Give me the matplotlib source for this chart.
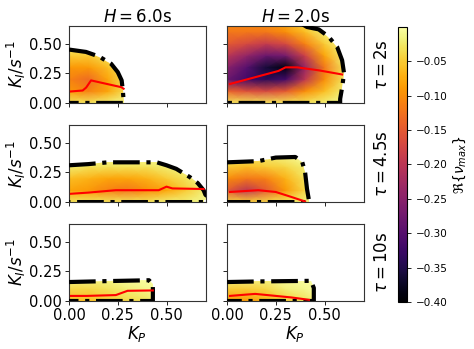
import matplotlib
matplotlib.use("Agg")
import matplotlib.pyplot as plt
import numpy as np
from matplotlib.patches import Polygon

kp = [0.0, 0.1, 0.2, 0.3, 0.4, 0.5, 0.6, 0.7]
ki = [0.0, 0.1, 0.2, 0.3, 0.4, 0.5, 0.6, 0.7]

H_labels = ["6.0", "2.0"]
tau_labels = ["2", "4.5", "10"]

# rows = Ki, cols = Kp
z_t2_h6 = [
    [-0.03, -0.03, -0.02, -0.01, 0.00, 0.00, 0.00, 0.00],
    [-0.09, -0.11, -0.08, -0.03, 0.00, 0.00, 0.00, 0.00],
    [-0.11, -0.13, -0.08, -0.03, 0.00, 0.00, 0.00, 0.00],
    [-0.09, -0.09, -0.06, -0.02, 0.00, 0.00, 0.00, 0.00],
    [-0.05, -0.05, -0.03, -0.01, 0.00, 0.00, 0.00, 0.00],
    [-0.02, -0.02, -0.01, 0.00, 0.00, 0.00, 0.00, 0.00],
    [0.00, 0.00, 0.00, 0.00, 0.00, 0.00, 0.00, 0.00],
    [0.00, 0.00, 0.00, 0.00, 0.00, 0.00, 0.00, 0.00],
]
z_t2_h2 = [
    [-0.03, -0.03, -0.03, -0.03, -0.03, -0.02, -0.01, 0.00],
    [-0.14, -0.16, -0.17, -0.15, -0.10, -0.06, -0.02, 0.00],
    [-0.28, -0.32, -0.34, -0.32, -0.20, -0.10, -0.03, 0.00],
    [-0.25, -0.30, -0.36, -0.39, -0.24, -0.12, -0.03, 0.00],
    [-0.20, -0.24, -0.28, -0.27, -0.18, -0.08, -0.02, 0.00],
    [-0.15, -0.17, -0.19, -0.17, -0.11, -0.05, -0.01, 0.00],
    [-0.12, -0.12, -0.12, -0.10, -0.06, -0.02, 0.00, 0.00],
    [-0.10, -0.10, -0.09, -0.07, -0.03, -0.01, 0.00, 0.00],
]
z_t45_h6 = [
    [-0.03, -0.03, -0.03, -0.03, -0.03, -0.02, -0.02, -0.01],
    [-0.08, -0.09, -0.11, -0.12, -0.10, -0.08, -0.05, -0.02],
    [-0.06, -0.07, -0.08, -0.08, -0.07, -0.05, -0.03, -0.01],
    [-0.02, -0.03, -0.03, -0.03, -0.03, -0.02, -0.01, 0.00],
    [0.00, 0.00, 0.00, 0.00, 0.00, 0.00, 0.00, 0.00],
    [0.00, 0.00, 0.00, 0.00, 0.00, 0.00, 0.00, 0.00],
    [0.00, 0.00, 0.00, 0.00, 0.00, 0.00, 0.00, 0.00],
    [0.00, 0.00, 0.00, 0.00, 0.00, 0.00, 0.00, 0.00],
]
z_t45_h2 = [
    [-0.04, -0.05, -0.04, -0.03, -0.02, 0.00, 0.00, 0.00],
    [-0.15, -0.20, -0.15, -0.09, -0.04, 0.00, 0.00, 0.00],
    [-0.10, -0.12, -0.11, -0.07, -0.03, 0.00, 0.00, 0.00],
    [-0.05, -0.06, -0.05, -0.04, -0.02, 0.00, 0.00, 0.00],
    [-0.02, -0.02, -0.02, -0.01, 0.00, 0.00, 0.00, 0.00],
    [0.00, 0.00, 0.00, 0.00, 0.00, 0.00, 0.00, 0.00],
    [0.00, 0.00, 0.00, 0.00, 0.00, 0.00, 0.00, 0.00],
    [0.00, 0.00, 0.00, 0.00, 0.00, 0.00, 0.00, 0.00],
]
z_t10_h6 = [
    [-0.06, -0.06, -0.05, -0.04, -0.03, 0.00, 0.00, 0.00],
    [-0.04, -0.04, -0.03, -0.02, -0.01, 0.00, 0.00, 0.00],
    [-0.01, -0.01, -0.01, 0.00, 0.00, 0.00, 0.00, 0.00],
    [0.00, 0.00, 0.00, 0.00, 0.00, 0.00, 0.00, 0.00],
    [0.00, 0.00, 0.00, 0.00, 0.00, 0.00, 0.00, 0.00],
    [0.00, 0.00, 0.00, 0.00, 0.00, 0.00, 0.00, 0.00],
    [0.00, 0.00, 0.00, 0.00, 0.00, 0.00, 0.00, 0.00],
    [0.00, 0.00, 0.00, 0.00, 0.00, 0.00, 0.00, 0.00],
]
z_t10_h2 = [
    [-0.09, -0.09, -0.07, -0.05, -0.03, 0.00, 0.00, 0.00],
    [-0.05, -0.05, -0.04, -0.02, -0.01, 0.00, 0.00, 0.00],
    [-0.01, -0.01, -0.01, 0.00, 0.00, 0.00, 0.00, 0.00],
    [0.00, 0.00, 0.00, 0.00, 0.00, 0.00, 0.00, 0.00],
    [0.00, 0.00, 0.00, 0.00, 0.00, 0.00, 0.00, 0.00],
    [0.00, 0.00, 0.00, 0.00, 0.00, 0.00, 0.00, 0.00],
    [0.00, 0.00, 0.00, 0.00, 0.00, 0.00, 0.00, 0.00],
    [0.00, 0.00, 0.00, 0.00, 0.00, 0.00, 0.00, 0.00],
]

# stability boundary (Kp, Ki), from top-left round to the Kp axis
bound_t2_h6 = [(0.0, 0.45), (0.087, 0.43), (0.156, 0.39), (0.216, 0.33), (0.25, 0.26),
               (0.27, 0.19), (0.276, 0.105), (0.28, 0.02), (0.28, 0.0)]
bound_t2_h2 = [(0.38, 0.67), (0.41, 0.64), (0.47, 0.62), (0.52, 0.56), (0.565, 0.47),
               (0.59, 0.36), (0.60, 0.25), (0.59, 0.13), (0.58, 0.034), (0.58, 0.0)]
bound_t45_h6 = [(0.0, 0.31), (0.1, 0.32), (0.2, 0.335), (0.3, 0.335), (0.45, 0.335),
                (0.5, 0.31), (0.55, 0.28), (0.62, 0.21), (0.66, 0.16), (0.69, 0.10),
                (0.70, 0.06), (0.73, 0.03), (0.69, 0.015), (0.69, 0.0)]
bound_t45_h2 = [(0.0, 0.335), (0.16, 0.345), (0.25, 0.375), (0.35, 0.38), (0.385, 0.34),
                (0.40, 0.255), (0.41, 0.11), (0.42, 0.015), (0.42, 0.0)]
bound_t10_h6 = [(0.0, 0.16), (0.2, 0.168), (0.41, 0.175), (0.43, 0.14), (0.43, 0.02), (0.43, 0.0)]
bound_t10_h2 = [(0.0, 0.16), (0.16, 0.165), (0.43, 0.17), (0.445, 0.11), (0.445, 0.01), (0.445, 0.0)]

# optimum (red) line
red_t2_h6 = [(0.01, 0.097), (0.07, 0.105), (0.088, 0.13), (0.113, 0.19), (0.268, 0.133), (0.28, 0.12)]
red_t2_h2 = [(0.015, 0.16), (0.264, 0.27), (0.30, 0.30), (0.36, 0.30), (0.47, 0.275), (0.59, 0.24)]
red_t45_h6 = [(0.01, 0.07), (0.1, 0.08), (0.24, 0.10), (0.46, 0.10), (0.5, 0.13), (0.53, 0.115), (0.69, 0.11)]
red_t45_h2 = [(0.015, 0.085), (0.16, 0.10), (0.25, 0.085), (0.33, 0.043), (0.40, 0.005)]
red_t10_h6 = [(0.01, 0.043), (0.09, 0.043), (0.24, 0.05), (0.30, 0.086), (0.43, 0.089)]
red_t10_h2 = [(0.015, 0.043), (0.144, 0.06), (0.25, 0.043), (0.33, 0.03), (0.42, 0.01)]

fields = [[z_t2_h6, z_t2_h2], [z_t45_h6, z_t45_h2], [z_t10_h6, z_t10_h2]]
bounds = [[bound_t2_h6, bound_t2_h2], [bound_t45_h6, bound_t45_h2], [bound_t10_h6, bound_t10_h2]]
reds = [[red_t2_h6, red_t2_h2], [red_t45_h6, red_t45_h2], [red_t10_h6, red_t10_h2]]

fig = plt.figure(figsize=(4.74, 3.49), dpi=100)
lefts = [0.1456, 0.479]
bottoms = [0.705, 0.421, 0.1375]
w, h = 0.288, 0.221

for r in range(3):
    for c in range(2):
        ax = fig.add_axes([lefts[c], bottoms[r], w, h])
        b = bounds[r][c]
        poly = [(0.0, 0.0)] + b
        if b[0][0] > 0:  # region reaches the top edge
            poly = [(0.0, 0.0), (0.0, 0.7), (b[0][0], 0.7)] + b
        mesh = ax.pcolormesh(kp, ki, np.array(fields[r][c]), shading='gouraud',
                             cmap='inferno', vmin=-0.4, vmax=0.0, zorder=1)
        clip = Polygon(poly, closed=True, transform=ax.transData, facecolor='none', edgecolor='none')
        ax.add_patch(clip)
        mesh.set_clip_path(clip)
        bx = [p[0] for p in b] + [0.0]
        by = [p[1] for p in b] + [0.0]
        ax.plot(bx, by, color='black', linestyle='-.', linewidth=3.0, zorder=3)
        rx = [p[0] for p in reds[r][c]]
        ry = [p[1] for p in reds[r][c]]
        ax.plot(rx, ry, color='red', linewidth=1.5, zorder=4)
        ax.set_xlim(0, 0.7)
        ax.set_ylim(0, 0.65)
        ax.set_xticks([0.0, 0.25, 0.5])
        ax.set_yticks([0.0, 0.25, 0.5])
        ax.tick_params(labelsize=10.5, length=3, width=0.6, pad=2)
        for s in ax.spines.values():
            s.set_linewidth(0.8)
            s.set_color('#333333')
        if c == 0:
            ax.set_yticklabels(['0.00', '0.25', '0.50'])
            ax.set_ylabel(r'$K_I/s^{-1}$', fontsize=12, labelpad=1)
        else:
            ax.set_yticklabels([])
            ax.yaxis.set_label_position('right')
            ax.set_ylabel(r'$\tau = %s$s' % tau_labels[r], fontsize=12, labelpad=7)
        if r == 2:
            ax.set_xticklabels(['0.00', '0.25', '0.50'])
            ax.set_xlabel(r'$K_P$', fontsize=12, labelpad=1)
        else:
            ax.set_xticklabels([])
        if r == 0:
            ax.set_title(r'$H = %s$s' % H_labels[c], fontsize=12, pad=3)

cax = fig.add_axes([0.8397, 0.1347, 0.019, 0.788])
cb = fig.colorbar(mesh, cax=cax, ticks=[-0.05, -0.10, -0.15, -0.20, -0.25, -0.30, -0.35, -0.40])
cb.ax.tick_params(labelsize=7.5, length=3, width=0.6)
cb.outline.set_linewidth(0.8)
cb.set_label(r'$\Re\{\nu_{max}\}$', fontsize=10, labelpad=2)

fig.savefig('out.png', dpi=100)
